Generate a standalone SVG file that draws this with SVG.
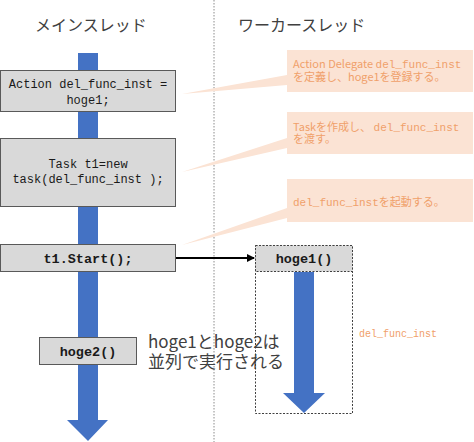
<svg xmlns="http://www.w3.org/2000/svg" width="474" height="442" viewBox="0 0 474 442">
<defs>
<style>
.title{font-family:"Noto Sans CJK JP","Noto Sans",sans-serif;font-size:16px;fill:#404040}
.box{fill:#d9d9d9;stroke:#595959;stroke-width:1}
.code{font-family:"Liberation Mono","DejaVu Sans Mono",monospace;fill:#1a1a1a;text-anchor:middle}
.call{fill:#fbe3d4}
.ct{font-family:"Noto Sans CJK JP","Noto Sans",sans-serif;font-size:11px;fill:#f0a06a}
.cm{font-family:"Liberation Mono","DejaVu Sans Mono",monospace}
.blue{fill:#4472c4}
.note{font-family:"Noto Sans CJK JP","Noto Sans",sans-serif;font-size:17px;fill:#404040}
</style>
<marker id="ah" markerWidth="8" markerHeight="8" refX="7" refY="4" orient="auto" markerUnits="userSpaceOnUse">
<path d="M0,0 L8,4 L0,8 Z" fill="#000"/>
</marker>
</defs>
<rect width="474" height="442" fill="#fff"/>
<line x1="214" y1="0" x2="214" y2="442" stroke="#8c8c8c" stroke-width="1" stroke-dasharray="1.5,1.5"/>
<text class="title" x="35" y="31">メインスレッド</text>
<text class="title" x="238" y="31">ワーカースレッド</text>

<g id="main-thread">
<path class="blue" d="M78,53 H98 V420 H108 L88,441 L67,420 H78 Z"/>
</g>

<g id="callouts">
<g id="callout1">
<polygon class="call" points="182,94 287,75 287,85"/>
<rect class="call" x="287" y="50" width="186" height="42"/>
<text class="ct" x="293" y="68">Action Delegate <tspan class="cm">del_func_inst</tspan></text>
<text class="ct" x="293" y="81">を定義し、hoge1を登録する。</text>
</g>
<g id="callout2">
<polygon class="call" points="182,172 287,138 287,148"/>
<rect class="call" x="287" y="112" width="186" height="42"/>
<text class="ct" x="293" y="131">Taskを作成し、 <tspan class="cm">del_func_inst</tspan></text>
<text class="ct" x="293" y="143">を渡す。</text>
</g>
<g id="callout3">
<polygon class="call" points="182,245 287,208 287,218"/>
<rect class="call" x="287" y="179" width="186" height="43"/>
<text class="ct" x="293" y="206"><tspan class="cm">del_func_inst</tspan>を起動する。</text>
</g>
</g>

<g id="node-action">
<rect class="box" x="0.5" y="70.5" width="175" height="41"/>
<text class="code" x="88" y="88" font-size="12">Action del_func_inst =</text>
<text class="code" x="88" y="104" font-size="12">hoge1;</text>
</g>
<g id="node-task">
<rect class="box" x="0.5" y="138.5" width="175" height="68"/>
<text class="code" x="88" y="168" font-size="12">Task t1=new</text>
<text class="code" x="88" y="183" font-size="12">task(del_func_inst );</text>
</g>
<g id="node-start">
<rect class="box" x="0.5" y="244.5" width="175" height="27"/>
<text class="code" x="88" y="263" font-size="13.5" font-weight="bold">t1.Start();</text>
</g>
<g id="node-hoge2">
<rect class="box" x="39.5" y="337.5" width="97" height="27"/>
<text class="code" x="88" y="356" font-size="13.5" font-weight="bold">hoge2()</text>
</g>

<g id="worker">
<rect x="255.5" y="245.5" width="97" height="168" fill="none" stroke="#404040" stroke-width="1" stroke-dasharray="2,1.5"/>
<rect x="255.5" y="245.5" width="97" height="26" fill="#d9d9d9" stroke="#404040" stroke-width="1" stroke-dasharray="2,1.5"/>
<text class="code" x="304" y="263" font-size="13.5" font-weight="bold">hoge1()</text>
<path class="blue" d="M294,272 H314 V393 H325 L304,413 L283,393 H294 Z"/>
<text x="359" y="337" font-family="Liberation Mono,DejaVu Sans Mono,monospace" font-size="10" fill="#f0a06a">del_func_inst</text>
</g>

<g id="note">
<text class="note" x="148" y="348">hoge1とhoge2は</text>
<text class="note" x="148" y="368">並列で実行される</text>
</g>

<g id="connectors">
<line x1="176" y1="258" x2="254" y2="258" stroke="#000" stroke-width="2" marker-end="url(#ah)"/>
</g>
</svg>
